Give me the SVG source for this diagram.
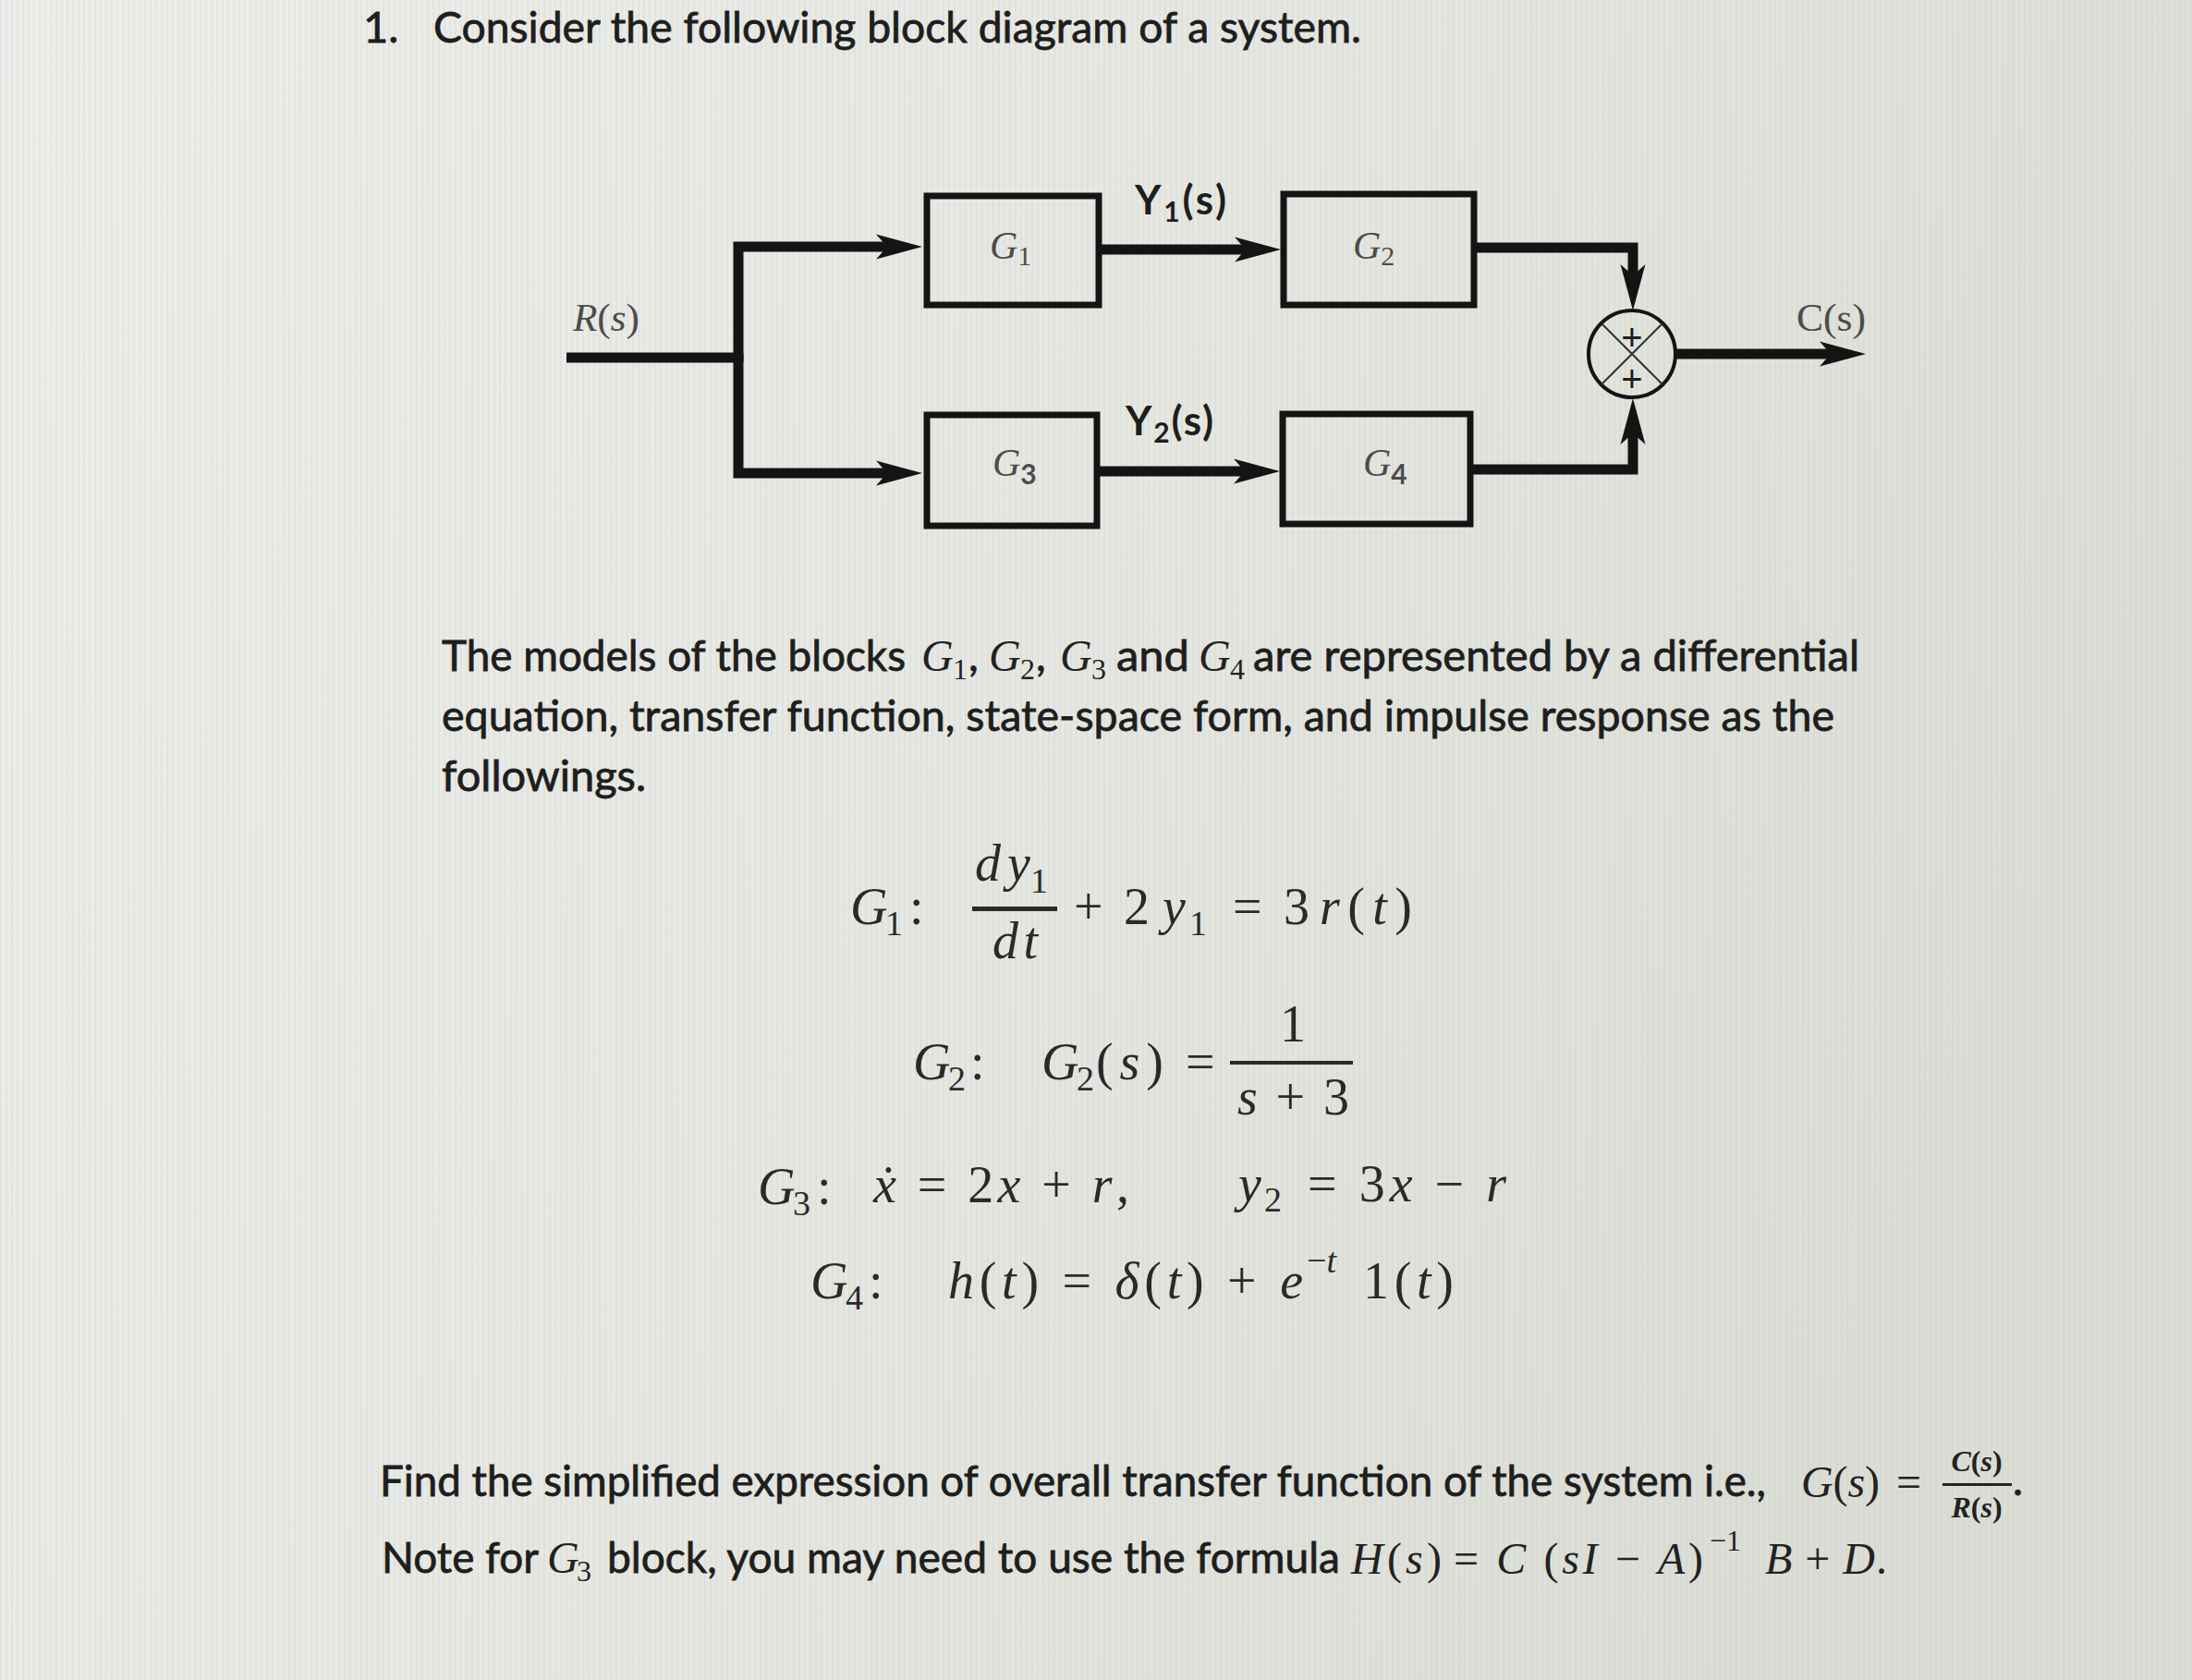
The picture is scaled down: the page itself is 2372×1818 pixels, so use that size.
<svg xmlns="http://www.w3.org/2000/svg" width="2372" height="1818" viewBox="0 0 2372 1818">
<defs>
<linearGradient id="bg" x1="0" y1="0" x2="1" y2="0.3">
<stop offset="0" stop-color="#eeeeec"/>
<stop offset="0.55" stop-color="#e6e7e2"/>
<stop offset="1" stop-color="#dbddd6"/>
</linearGradient>
<pattern id="stripes" width="6" height="10" patternUnits="userSpaceOnUse">
<rect x="0" y="0" width="2" height="10" fill="#c9cfc2" opacity="0.25"/>
</pattern>
<marker id="arr" markerUnits="userSpaceOnUse" markerWidth="52" markerHeight="30" refX="20" refY="14" orient="auto" overflow="visible">
<path d="M0,0.5 L50,14 L0,27.5 L12,14 Z" fill="#141414"/>
</marker>
<style>
.ln{fill:none;stroke:#141414;stroke-width:11;stroke-linejoin:miter}
.box{fill:none;stroke:#141414;stroke-width:7}
.lbl{font-family:"Liberation Serif","DejaVu Serif",serif;fill:#4c4c4c;font-size:42px}
.ylb{font-family:Lato,"Liberation Sans",sans-serif;font-weight:bold;fill:#1e1e1e;font-size:44px}
.body{font-family:Lato,"Liberation Sans",sans-serif;fill:#1e1e1e;stroke:#1e1e1e;stroke-width:0.8;font-size:47px}
.m{font-family:"Liberation Serif","DejaVu Serif",serif;fill:#2a2a2a;font-size:56px}
.ms{font-family:"Liberation Serif","DejaVu Serif",serif;fill:#2a2a2a;font-size:38px}
.bm{font-family:"Liberation Serif","DejaVu Serif",serif;fill:#222;font-size:48px}
.bs{font-family:"Liberation Serif","DejaVu Serif",serif;fill:#222;font-size:32px}
.i{font-style:italic}
.pl{font-family:"Liberation Sans",sans-serif;fill:#1e1e1e;font-size:40px;text-anchor:middle}
</style>
</defs>
<rect x="0" y="0" width="2372" height="1818" fill="url(#bg)"/>
<rect x="0" y="0" width="2372" height="1818" fill="url(#stripes)"/>

<text class="body" x="393" y="46">1.</text>
<text class="body" x="469" y="46" textLength="1004" lengthAdjust="spacingAndGlyphs">Consider the following block diagram of a system.</text>

<g id="connectors">
<path class="ln" d="M613,387 H799"/>
<path class="ln" d="M799,392 V267 H968" marker-end="url(#arr)"/>
<path class="ln" d="M799,382 V512 H968" marker-end="url(#arr)"/>
<path class="ln" d="M1189,270 H1356" marker-end="url(#arr)"/>
<path class="ln" d="M1187,510 H1355" marker-end="url(#arr)"/>
<path class="ln" d="M1596,268 H1767 V306" marker-end="url(#arr)"/>
<path class="ln" d="M1592,508 H1767 V461" marker-end="url(#arr)"/>
<path class="ln" d="M1813,383 H1989" marker-end="url(#arr)"/>
</g>

<g id="G1">
<rect class="box" x="1003" y="212" width="186" height="118"/>
<text class="lbl" x="1071" y="280"><tspan class="i">G</tspan><tspan font-size="30" dy="7">1</tspan></text>
</g>
<g id="G2">
<rect class="box" x="1389" y="210" width="206" height="120"/>
<text class="lbl" x="1464" y="280"><tspan class="i">G</tspan><tspan font-size="30" dy="7">2</tspan></text>
</g>
<g id="G3">
<rect class="box" x="1003" y="449" width="184" height="120"/>
<text class="lbl" x="1074" y="515"><tspan class="i">G</tspan><tspan font-family="Lato,'Liberation Sans',sans-serif" font-weight="bold" font-size="30" dy="9">3</tspan></text>
</g>
<g id="G4">
<rect class="box" x="1388" y="448" width="203" height="119"/>
<text class="lbl" x="1475" y="515"><tspan class="i">G</tspan><tspan font-family="Lato,'Liberation Sans',sans-serif" font-weight="bold" font-size="30" dy="9">4</tspan></text>
</g>
<g id="sum">
<circle cx="1766" cy="383" r="47" fill="none" stroke="#141414" stroke-width="4"/>
<path d="M1733,350 L1799,416 M1799,350 L1733,416" stroke="#333" stroke-width="2"/>
<text class="pl" x="1766" y="379">+</text>
<text class="pl" x="1766" y="424">+</text>
</g>

<text class="lbl" x="620" y="358" textLength="72" lengthAdjust="spacingAndGlyphs"><tspan class="i">R</tspan>(<tspan class="i">s</tspan>)</text>
<text class="lbl" x="1944" y="358" textLength="75" lengthAdjust="spacingAndGlyphs">C(s)</text>
<text class="ylb" x="1228" y="232" textLength="99" lengthAdjust="spacing">Y<tspan font-size="30" dy="8">1</tspan><tspan dy="-8">(s)</tspan></text>
<text class="ylb" x="1218" y="471" textLength="95" lengthAdjust="spacing">Y<tspan font-size="30" dy="8">2</tspan><tspan dy="-8">(s)</tspan></text>

<g id="paragraph">
<text class="body" x="478" y="726" textLength="502" lengthAdjust="spacingAndGlyphs">The models of the blocks</text>
<text class="bm i" x="997" y="726">G</text><text class="bs" x="1031" y="735">1</text><text class="body" x="1048" y="726">,</text>
<text class="bm i" x="1070" y="726">G</text><text class="bs" x="1104" y="735">2</text><text class="body" x="1121" y="726">,</text>
<text class="bm i" x="1147" y="726">G</text><text class="bs" x="1181" y="735">3</text>
<text class="body" x="1208" y="726" textLength="79" lengthAdjust="spacingAndGlyphs">and</text>
<text class="bm i" x="1297" y="726">G</text><text class="bs" x="1331" y="735">4</text>
<text class="body" x="1356" y="726" textLength="656" lengthAdjust="spacingAndGlyphs">are represented by a differential</text>
<text class="body" x="478" y="791" textLength="1507" lengthAdjust="spacingAndGlyphs">equation, transfer function, state-space form, and impulse response as the</text>
<text class="body" x="478" y="856" textLength="221" lengthAdjust="spacingAndGlyphs">followings.</text>
</g>

<g id="eqG1">
<text class="m i" x="920" y="1000">G</text><text class="ms" x="958" y="1012">1</text><text class="m" x="984" y="1000">:</text>
<text class="m i" x="1055" y="953">d</text><text class="m i" x="1090" y="953">y</text><text class="ms" x="1115" y="966">1</text>
<rect x="1052" y="981" width="92" height="5" fill="#2a2a2a"/>
<text class="m i" x="1074" y="1037" textLength="49" lengthAdjust="spacing">dt</text>
<text class="m" x="1162" y="1000">+</text>
<text class="m" x="1216" y="1000">2</text>
<text class="m i" x="1258" y="1000">y</text><text class="ms" x="1287" y="1012">1</text>
<text class="m" x="1334" y="1000">=</text>
<text class="m" x="1389" y="1000">3</text>
<text class="m" x="1428" y="1000" textLength="100" lengthAdjust="spacing"><tspan class="i">r</tspan>(<tspan class="i">t</tspan>)</text>
</g>

<g id="eqG2">
<text class="m i" x="988" y="1168">G</text><text class="ms" x="1026" y="1180">2</text><text class="m" x="1050" y="1168">:</text>
<text class="m i" x="1127" y="1168">G</text><text class="ms" x="1165" y="1180">2</text>
<text class="m" x="1186" y="1168" textLength="73" lengthAdjust="spacing">(<tspan class="i">s</tspan>)</text>
<text class="m" x="1283" y="1168">=</text>
<rect x="1331" y="1148" width="133" height="4" fill="#2a2a2a"/>
<text class="m" x="1399" y="1127" text-anchor="middle">1</text>
<text class="m" x="1339" y="1206" textLength="121" lengthAdjust="spacing"><tspan class="i">s</tspan> + 3</text>
</g>

<g id="eqG3">
<text class="m i" x="820" y="1303">G</text><text class="ms" x="858" y="1315">3</text><text class="m" x="884" y="1303">:</text>
<text class="m" x="945" y="1301" textLength="277" lengthAdjust="spacing"><tspan class="i">ẋ</tspan> = 2<tspan class="i">x</tspan> + <tspan class="i">r</tspan>,</text>
<text class="m i" x="1340" y="1300">y</text><text class="ms" x="1368" y="1311">2</text>
<text class="m" x="1415" y="1300" textLength="215" lengthAdjust="spacing">= 3<tspan class="i">x</tspan> − <tspan class="i">r</tspan></text>
</g>

<g id="eqG4">
<text class="m i" x="877" y="1405">G</text><text class="ms" x="915" y="1417">4</text><text class="m" x="940" y="1405">:</text>
<text class="m" x="1026" y="1405" textLength="384" lengthAdjust="spacing"><tspan class="i">h</tspan>(<tspan class="i">t</tspan>) = <tspan class="i">δ</tspan>(<tspan class="i">t</tspan>) + <tspan class="i">e</tspan></text>
<text class="ms" x="1414" y="1377">−<tspan class="i">t</tspan></text>
<text class="m" x="1475" y="1405" textLength="98" lengthAdjust="spacing">1(<tspan class="i">t</tspan>)</text>
</g>

<g id="question">
<text class="body" x="411" y="1619" textLength="1500" lengthAdjust="spacingAndGlyphs">Find the simplified expression of overall transfer function of the system i.e.,</text>
<text class="bm" x="1949" y="1620" textLength="85" lengthAdjust="spacing"><tspan class="i">G</tspan>(<tspan class="i">s</tspan>)</text>
<text class="bm" x="2052" y="1620">=</text>
<text class="bs" x="2139" y="1592" text-anchor="middle" font-weight="bold"><tspan class="i">C</tspan>(<tspan class="i">s</tspan>)</text>
<rect x="2102" y="1605" width="75" height="3" fill="#222"/>
<text class="bs" x="2139" y="1642" text-anchor="middle" font-weight="bold"><tspan class="i">R</tspan>(<tspan class="i">s</tspan>)</text>
<text class="body" x="2178" y="1618">.</text>
<text class="body" x="413" y="1702" textLength="170" lengthAdjust="spacingAndGlyphs">Note for</text>
<text class="bm i" x="592" y="1702">G</text><text class="bs" x="624" y="1711">3</text>
<text class="body" x="657" y="1702" textLength="793" lengthAdjust="spacingAndGlyphs">block, you may need to use the formula</text>
<text class="bm" x="1462" y="1703" textLength="98" lengthAdjust="spacing"><tspan class="i">H</tspan>(<tspan class="i">s</tspan>)</text>
<text class="bm" x="1573" y="1703" textLength="270" lengthAdjust="spacing">= <tspan class="i">C</tspan> (<tspan class="i">sI</tspan> − <tspan class="i">A</tspan>)</text>
<text class="bs" x="1850" y="1678" font-size="34">−1</text>
<text class="bm" x="1910" y="1703" textLength="132" lengthAdjust="spacing"><tspan class="i">B</tspan> + <tspan class="i">D</tspan>.</text>
</g>
</svg>
